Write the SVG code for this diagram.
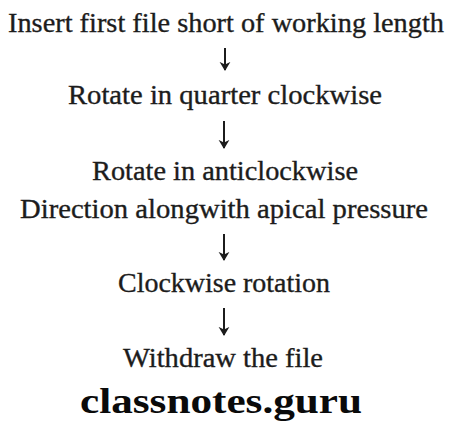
<svg xmlns="http://www.w3.org/2000/svg" width="451" height="432" viewBox="0 0 451 432">
<style>
.t{font-family:"Liberation Serif","DejaVu Serif",serif;font-size:28px;fill:#1c1c1c;stroke:#1c1c1c;stroke-width:0.35;text-anchor:middle}
.w{font-family:"Liberation Serif","DejaVu Serif",serif;font-size:35px;font-weight:bold;fill:#0a0a0a;text-anchor:middle}
.c{stroke:#1c1c1c;stroke-width:2;fill:none}
</style>
<defs>
<marker id="ah" viewBox="0 0 10 12" refX="9" refY="6" markerWidth="9" markerHeight="12" markerUnits="userSpaceOnUse" orient="auto">
<path d="M0,0 L10,6 L0,12 L3,6 Z" fill="#1c1c1c"/>
</marker>
</defs>
<rect width="451" height="432" fill="#ffffff"/>
<g id="n1"><text class="t" x="226" y="32" textLength="436" lengthAdjust="spacingAndGlyphs">Insert first file short of working length</text></g>
<g id="n2"><text class="t" x="225" y="104" textLength="314" lengthAdjust="spacingAndGlyphs">Rotate in quarter clockwise</text></g>
<g id="n3"><text class="t" x="225" y="180" textLength="266" lengthAdjust="spacingAndGlyphs">Rotate in anticlockwise</text>
<text class="t" x="224" y="218" textLength="408" lengthAdjust="spacingAndGlyphs">Direction alongwith apical pressure</text></g>
<g id="n4"><text class="t" x="224" y="292" textLength="212" lengthAdjust="spacingAndGlyphs">Clockwise rotation</text></g>
<g id="n5"><text class="t" x="223" y="367" textLength="200" lengthAdjust="spacingAndGlyphs">Withdraw the file</text></g>
<g id="watermark"><text class="w" x="221" y="413" textLength="282" lengthAdjust="spacingAndGlyphs">classnotes.guru</text></g>
<g id="connectors">
<path class="c" d="M225,48 V70" marker-end="url(#ah)"/>
<path class="c" d="M224,121 V148" marker-end="url(#ah)"/>
<path class="c" d="M224,234 V260" marker-end="url(#ah)"/>
<path class="c" d="M224,308 V335" marker-end="url(#ah)"/>
</g>
</svg>
